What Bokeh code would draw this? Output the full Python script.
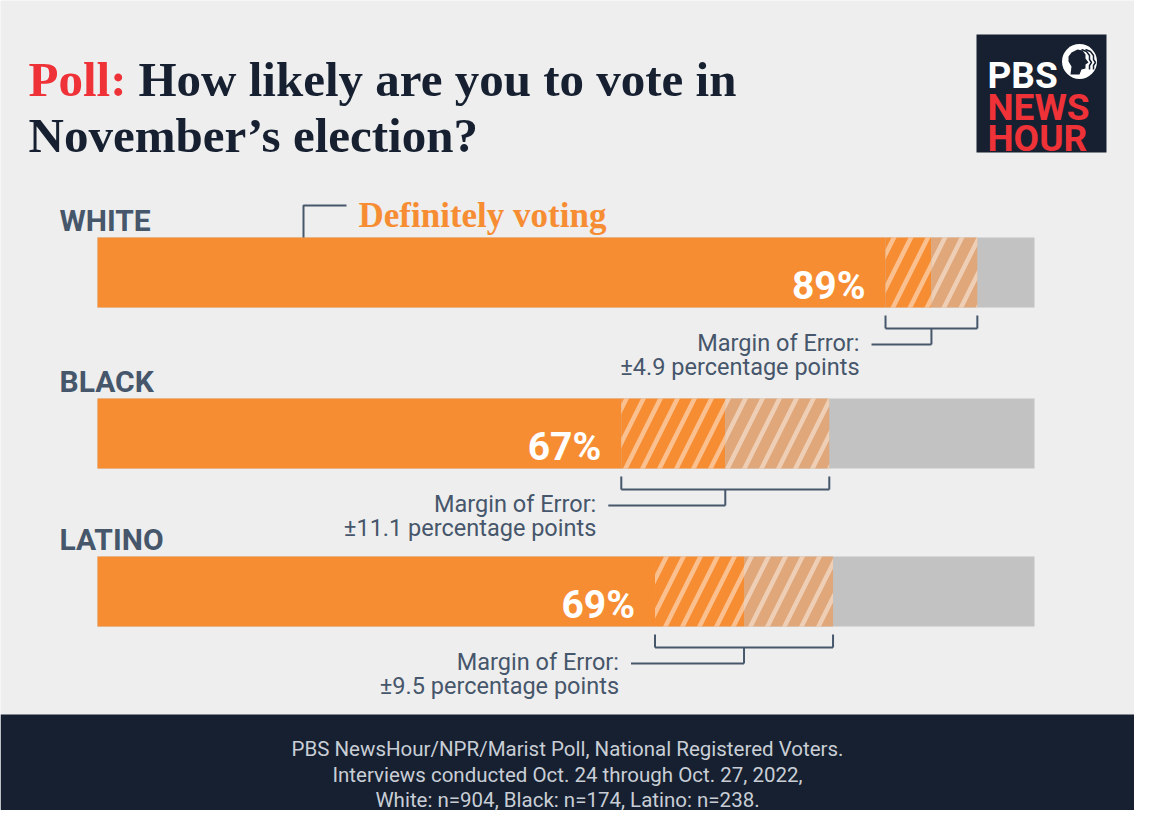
from bokeh.plotting import figure
from bokeh.models import Range1d
from bokeh.core.properties import value
from bokeh.embed import file_html
from bokeh.resources import INLINE

# ---------------- data ----------------
groups = ["WHITE", "BLACK", "LATINO"]
definitely = [89, 67, 69]
margins = [4.9, 11.1, 9.5]
series_label = "Definitely voting"
title_lead = "Poll:"
title_line1 = "How likely are you to vote in"
title_line2 = "November\u2019s election?"
footer_lines = [
    "PBS NewsHour/NPR/Marist Poll, National Registered Voters.",
    "Interviews conducted Oct. 24 through Oct. 27, 2022,",
    "White: n=904, Black: n=174, Latino: n=238.",
]

# ---------------- layout / style ----------------
W, H = 1134, 810
PX0, PX100 = 105, 1042            # reference pixel of 0 % and 100 %
PPX = (PX100 - PX0) / 100.0       # pixels per percent
def X(px):
    return (px - PX0) / PPX
def dx(px):
    return px / PPX

row_y = [280, 441, 599]
bar_h = 70
elbow_off = [14, 13, 24]

BG = "#EEEEEE"
ORANGE = "#F78D33"
TAN = "#E0A77A"
GRAY = "#C2C2C2"
SLATE = "#46566B"
NAVY = "#162030"
RED = "#EE3238"
HATCH = dict(hatch_pattern="/", hatch_color="white", hatch_alpha=0.45,
             hatch_scale=34, hatch_weight=4.5)

p = figure(width=W, height=H, output_backend="svg", toolbar_location=None,
           x_range=Range1d(X(8), X(1142)), y_range=Range1d(818, 8),
           x_axis_type=None, y_axis_type=None, min_border=0,
           background_fill_color=BG, border_fill_color=BG,
           outline_line_color=None)
p.xgrid.visible = False
p.ygrid.visible = False

lower = [v - m for v, m in zip(definitely, margins)]
upper = [v + m for v, m in zip(definitely, margins)]

# bars
p.hbar(y=row_y, left=0, right=100, height=bar_h, fill_color=GRAY, line_color=None)
p.hbar(y=row_y, left=0, right=lower, height=bar_h, fill_color=ORANGE, line_color=None)
p.hbar(y=row_y, left=lower, right=definitely, height=bar_h, fill_color=ORANGE,
       line_color=None, **HATCH)
p.hbar(y=row_y, left=definitely, right=upper, height=bar_h, fill_color=TAN,
       line_color=None, **HATCH)

# group labels
p.text(x=[X(67)] * 3, y=[y - bar_h / 2 - 17 for y in row_y], text=groups,
       text_font=value("Roboto"), text_font_style="bold", text_font_size="30px",
       text_color=SLATE, text_align="left", text_baseline="alphabetic")

# value labels
p.text(x=[l - dx(20) for l in lower], y=[y + 13 for y in row_y],
       text=[f"{v}%" for v in definitely],
       text_font=value("Roboto"), text_font_style="bold", text_font_size="39px",
       text_color="white", text_align="right", text_baseline="alphabetic")

# margin brackets
x0s, y0s, x1s, y1s = [], [], [], []
tx, ty1, ty2, t1, t2 = [], [], [], [], []
for y, lo, v, hi, m, off in zip(row_y, lower, definitely, upper, margins, elbow_off):
    b = y + bar_h / 2
    x0s += [lo, hi, lo, v, lo - dx(off)]
    x1s += [lo, hi, hi, v, v]
    y0s += [b + 8, b + 8, b + 21, b + 21, b + 37]
    y1s += [b + 21, b + 21, b + 21, b + 37, b + 37]
    tx.append(lo - dx(off + 12))
    ty1.append(b + 35)
    ty2.append(b + 59)
    t1.append("Margin of Error:")
    t2.append(f"\u00b1{m} percentage points")
p.segment(x0=x0s, y0=y0s, x1=x1s, y1=y1s, line_color=SLATE, line_width=2)
p.text(x=tx, y=ty1, text=t1, text_font=value("Roboto"), text_font_size="23.5px",
       text_color=SLATE, text_align="right", text_baseline="alphabetic")
p.text(x=tx, y=ty2, text=t2, text_font=value("Roboto"), text_font_size="23.5px",
       text_color=SLATE, text_align="right", text_baseline="alphabetic")

# series label with leader
top0 = row_y[0] - bar_h / 2
p.line(x=[X(311), X(311), X(354)], y=[top0, 213, 213], line_color=SLATE, line_width=2)
p.text(x=[X(366)], y=[223], text=[series_label], text_font=value("Liberation Serif"),
       text_font_style="bold", text_font_size="35px", text_color=ORANGE,
       text_align="left", text_baseline="alphabetic")

# title
p.text(x=[X(36)], y=[87], text=[title_lead], text_font=value("Liberation Serif"),
       text_font_style="bold", text_font_size="49px", text_color=RED,
       text_align="left", text_baseline="alphabetic")
p.text(x=[X(36 + 110), X(36)], y=[87, 143], text=[title_line1, title_line2],
       text_font=value("Liberation Serif"), text_font_style="bold",
       text_font_size="49px", text_color=NAVY,
       text_align="left", text_baseline="alphabetic")

# logo
p.quad(left=[X(984)], right=[X(1114)], top=[42], bottom=[160], fill_color=NAVY, line_color=None)
p.text(x=[X(995)], y=[83], text=["PBS"], text_font=value("Roboto"), text_font_style="bold",
       text_font_size="37px", text_color="white", text_align="left", text_baseline="alphabetic")
p.text(x=[X(995), X(995)], y=[115, 146], text=["NEWS", "HOUR"], text_font=value("Roboto"),
       text_font_style="bold", text_font_size="37px", text_color=RED,
       text_align="left", text_baseline="alphabetic")
cx, cy = 1087, 69
p.scatter(x=[X(cx)], y=[cy], size=35, marker="circle", fill_color="white", line_color=None)
head = [(-8, -9), (-2, -12), (3, -11), (6, -7), (6, -3), (9, 1), (6, 3), (6, 7),
        (2, 8), (0, 13), (-9, 13), (-8, 5), (-11, 0), (-11, -5)]
p.patch(x=[X(cx + a) for a, b in head], y=[cy + b for a, b in head], fill_color=NAVY, line_color=None)
for s in (4, 8):
    prof = [(-2 + s, -12), (3 + s, -10), (6 + s, -6), (6 + s, -2), (8 + s, 1), (6 + s, 4), (6 + s, 8)]
    p.line(x=[X(cx + a) for a, b in prof], y=[cy + b for a, b in prof], line_color=NAVY, line_width=1.5)

# footer
p.quad(left=[X(8)], right=[X(1142)], top=[722], bottom=[818], fill_color=NAVY, line_color=None)
p.text(x=[X(575)] * 3, y=[756, 782, 807], text=footer_lines, text_font=value("Roboto"),
       text_font_size="20.5px", text_color="#C9CED6", text_align="center",
       text_baseline="alphabetic")

open("out.html", "w").write(file_html(p, INLINE))
